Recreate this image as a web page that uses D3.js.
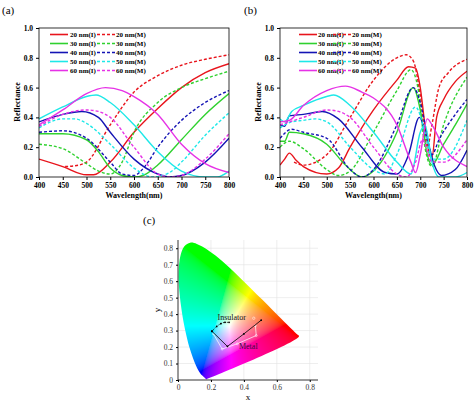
<!DOCTYPE html>
<html><head><meta charset="utf-8">
<script src="https://cdn.jsdelivr.net/npm/d3@7"></script>
<style>body{margin:0;background:#fff}svg{font-family:"Liberation Serif",serif}</style>
</head><body>
<script>
// series: [wavelength, reflectance]
var names = ["20 nm", "30 nm", "40 nm", "50 nm", "60 nm"];
var colors = ["#e8141c", "#2fd12f", "#1414b4", "#1ee8e8", "#e632e6"];

var aI20 = [[400,.12],[450,.07],[500,.015],[515,.015],[550,.1],[600,.3],[650,.46],[700,.6],[750,.7],[800,.76]];
var aM20 = [[455,.07],[475,.075],[500,.1],[550,.35],[600,.57],[650,.68],[700,.75],[750,.79],[800,.82]];
var aI30 = [[400,.29],[450,.29],[500,.25],[525,.17],[550,.06],[575,.01],[600,0],[625,.02],[650,.08],[700,.25],[750,.42],[800,.56]];
var aM30 = [[400,.22],[450,.19],[500,.09],[525,.04],[550,.02],[575,.1],[600,.3],[650,.5],[700,.6],[750,.66],[800,.71]];
var aI40 = [[400,.37],[450,.42],[490,.44],[525,.4],[550,.3],[600,.12],[650,.02],[675,0],[700,.01],[750,.1],[800,.26]];
var aM40 = [[400,.3],[450,.31],[500,.26],[550,.1],[575,.02],[600,.01],[625,.08],[650,.2],[700,.38],[750,.5],[800,.58]];
var aI50 = [[400,.39],[450,.47],[500,.54],[520,.55],[550,.5],[600,.35],[650,.17],[700,.04],[750,0],[775,0],[800,.04]];
var aM50 = [[400,.33],[450,.39],[475,.39],[500,.36],[550,.22],[600,.06],[640,0],[675,.03],[700,.1],[750,.28],[800,.43]];
var aI60 = [[400,.35],[450,.45],[500,.56],[540,.6],[575,.58],[600,.54],[650,.42],[700,.22],[750,.09],[800,.03]];
var aM60 = [[400,.34],[450,.42],[500,.45],[525,.44],[550,.4],[600,.2],[650,.02],[675,0],[700,.01],[750,.12],[800,.29]];

var bI20 = [[400,.08],[410,.12],[420,.16],[435,.11],[450,.07],[500,.02],[525,.06],[550,.2],[600,.45],[650,.65],[675,.74],[690,.73],[700,.6],[710,.35],[720,.15],[725,.13],[735,.4],[750,.52],[775,.64],[800,.71]];
var bM20 = [[430,.1],[450,.08],[500,.15],[550,.4],[600,.65],[650,.8],[670,.82],[685,.78],[700,.55],[715,.2],[725,.35],[740,.6],[760,.7],[800,.79]];
var bI30 = [[400,.24],[410,.24],[420,.3],[450,.29],[500,.22],[540,.08],[575,0],[600,.04],[650,.3],[685,.6],[700,.45],[715,.15],[725,.08],[750,.22],[775,.35],[800,.49]];
var bM30 = [[400,.2],[420,.24],[450,.19],[500,.05],[525,.01],[550,.04],[600,.3],[650,.58],[680,.72],[695,.6],[710,.2],[725,.07],[750,.35],[800,.67]];
var bI40 = [[400,.35],[410,.34],[420,.41],[450,.42],[490,.44],[525,.39],[575,.2],[625,.03],[650,.02],[675,.15],[698,.4],[715,.25],[730,.08],[745,.01],[775,.05],[800,.18]];
var bM40 = [[400,.26],[425,.32],[450,.3],[500,.26],[550,.05],[575,0],[600,.05],[650,.35],[685,.6],[700,.5],[715,.28],[725,.15],[740,.25],[775,.42],[800,.52]];
var bI50 = [[400,.39],[410,.37],[425,.44],[450,.48],[500,.54],[515,.55],[550,.48],[600,.3],[650,.1],[680,.02],[700,.3],[710,.35],[725,.1],[740,0],[775,0],[800,.03]];
var bM50 = [[400,.33],[425,.37],[450,.38],[475,.39],[500,.37],[550,.2],[600,.05],[625,.02],[650,.15],[690,.47],[710,.3],[725,.12],[750,.12],[800,.38]];
var bI60 = [[400,.37],[420,.38],[450,.48],[500,.58],[540,.61],[575,.57],[600,.53],[650,.35],[680,.1],[690,.03],[700,.15],[715,.39],[725,.35],[750,.2],[800,.07]];
var bM60 = [[400,.35],[450,.4],[500,.45],[525,.44],[550,.4],[600,.2],[650,.02],[670,0],[690,.1],[705,.25],[725,.1],[750,.1],[800,.25]];

var xTicks = [400, 450, 500, 550, 600, 650, 700, 750, 800];
var yTicks = [0, 0.2, 0.4, 0.6, 0.8, 1.0];

// CIE 1931 spectral locus (x, y)
var locus = [[.1741,.0050],[.1733,.0048],[.1714,.0051],[.1644,.0109],[.1566,.0177],[.1440,.0297],[.1241,.0578],[.1096,.0868],[.0913,.1327],[.0687,.2007],[.0454,.2950],[.0235,.4127],[.0082,.5384],[.0039,.6548],[.0139,.7502],[.0389,.8120],[.0743,.8338],[.1142,.8262],[.1547,.8059],[.2296,.7543],[.3016,.6923],[.3731,.6245],[.4441,.5547],[.5125,.4866],[.5752,.4242],[.6270,.3725],[.6915,.3083],[.7190,.2809],[.7347,.2653]];
var insulator = [[.206,.296],[.30,.204],[.40,.28],[.505,.363]];
var insulatorDots = [[.206,.296],[.235,.325],[.26,.342],[.285,.35],[.31,.35]];
var metal = [[.215,.28],[.268,.188],[.36,.22],[.475,.27],[.47,.33]];
var metalMark = [.46,.375];
var cTicksX = [0, 0.2, 0.4, 0.6, 0.8];
var cTicksY = [0, 0.1, 0.2, 0.3, 0.4, 0.5, 0.6, 0.7, 0.8];

var W = 474, H = 404;
var svg = d3.select("body").append("svg").attr("width", W).attr("height", H);

function panel(x0, x1, label, lx, series, leg) {
	var x = d3.scaleLinear().domain([400, 800]).range([x0, x1]);
	var y = d3.scaleLinear().domain([0, 1]).range([177, 28]);
	var g = svg.append("g");
	var clipId = "clip" + label;
	svg.append("clipPath").attr("id", clipId).append("rect")
		.attr("x", x0).attr("y", 28).attr("width", x1 - x0).attr("height", 149);
	var line = d3.line().x(function (d) { return x(d[0]); }).y(function (d) { return y(d[1]); })
		.curve(d3.curveMonotoneX);
	var pl = g.append("g").attr("clip-path", "url(#" + clipId + ")");
	series.forEach(function (s, i) {
		var c = colors[Math.floor(i / 2)];
		pl.append("path").attr("d", line(s)).attr("fill", "none").attr("stroke", c)
			.attr("stroke-width", 1.4).attr("stroke-dasharray", i % 2 ? "3,2" : null);
	});
	g.append("rect").attr("x", x0).attr("y", 28).attr("width", x1 - x0).attr("height", 149)
		.attr("fill", "none").attr("stroke", "#000").attr("stroke-width", 0.8);
	var ax = g.append("g").attr("transform", "translate(0,177)")
		.call(d3.axisBottom(x).tickValues(xTicks).tickSize(3).tickFormat(d3.format("d")));
	var ay = g.append("g").attr("transform", "translate(" + x0 + ",0)")
		.call(d3.axisLeft(y).tickValues(yTicks).tickSize(3).tickFormat(d3.format(".1f")));
	[ax, ay].forEach(function (a) {
		a.select(".domain").remove();
		a.selectAll("text").attr("font-size", 7.5).attr("font-weight", "bold").attr("font-family", "Liberation Serif");
	});
	g.append("text").attr("x", (x0 + x1) / 2).attr("y", 198).attr("text-anchor", "middle")
		.attr("font-size", 8).attr("font-weight", "bold").text("Wavelength(nm)");
	g.append("text").attr("transform", "translate(" + (x0 - 19) + ",102) rotate(-90)")
		.attr("text-anchor", "middle").attr("font-size", 8).attr("font-weight", "bold").text("Reflectance");
	g.append("text").attr("x", lx).attr("y", 14).attr("font-size", 11).text("(" + label + ")");
	names.forEach(function (n, i) {
		var yy = 34.5 + i * 9;
		[0, 1].forEach(function (k) {
			var sx = leg[k * 2];
			g.append("line").attr("x1", sx).attr("x2", sx + 18).attr("y1", yy).attr("y2", yy)
				.attr("stroke", colors[i]).attr("stroke-width", 1.6).attr("stroke-dasharray", k ? "3,2" : null);
			g.append("text").attr("x", leg[k * 2 + 1]).attr("y", yy + 2.5).attr("font-size", 7)
				.attr("font-weight", "bold").text(n + (k ? "(M)" : "(I)"));
		});
	});
}

panel(39, 229, "a", 2, [aI20, aM20, aI30, aM30, aI40, aM40, aI50, aM50, aI60, aM60], [50, 70, 97, 116]);
panel(280, 467, "b", 244, [bI20, bM20, bI30, bM30, bI40, bM40, bI50, bM50, bI60, bM60], [299, 318, 333, 352]);

// (c) chromaticity diagram
var cx = d3.scaleLinear().domain([0, 0.85]).range([178, 318]);
var cy = d3.scaleLinear().domain([0, 0.85]).range([380, 240]);
var cg = svg.append("g");
cg.append("text").attr("x", 143).attr("y", 224).attr("font-size", 11).text("(c)");
cTicksX.forEach(function (t) {
	if (t > 0) cg.append("line").attr("x1", cx(t)).attr("x2", cx(t)).attr("y1", cy(0)).attr("y2", cy(0.85)).attr("stroke", "#e2e2e2").attr("stroke-width", 0.6);
});
cTicksY.forEach(function (t) {
	if (t > 0) cg.append("line").attr("x1", cx(0)).attr("x2", cx(0.85)).attr("y1", cy(t)).attr("y2", cy(t)).attr("stroke", "#e2e2e2").attr("stroke-width", 0.6);
});

var cw = 140, ch = 140;
var canvas = document.createElement("canvas");
canvas.width = cw; canvas.height = ch;
var ctx = canvas.getContext("2d");
var img = ctx.createImageData(cw, ch);
function gam(v) { return v <= 0.0031308 ? 12.92 * v : 1.055 * Math.pow(v, 1 / 2.4) - 0.055; }
for (var j = 0; j < ch; j++) {
	for (var i = 0; i < cw; i++) {
		var xx = cx.invert(178 + i + 0.5), yy = cy.invert(240 + j + 0.5);
		if (yy < 0.001) yy = 0.001;
		var X = xx / yy, Y = 1, Z = (1 - xx - yy) / yy;
		var r = 3.2406 * X - 1.5372 * Y - 0.4986 * Z;
		var gg = -0.9689 * X + 1.8758 * Y + 0.0415 * Z;
		var b = 0.0557 * X - 0.2040 * Y + 1.0570 * Z;
		r = Math.max(r, 0); gg = Math.max(gg, 0); b = Math.max(b, 0);
		var m = Math.max(r, gg, b) || 1;
		var p = (j * cw + i) * 4;
		img.data[p] = 255 * gam(r / m); img.data[p + 1] = 255 * gam(gg / m); img.data[p + 2] = 255 * gam(b / m); img.data[p + 3] = 255;
	}
}
ctx.putImageData(img, 0, 0);
svg.append("clipPath").attr("id", "locusClip").append("path")
	.attr("d", d3.line().x(function (d) { return cx(d[0]); }).y(function (d) { return cy(d[1]); }).curve(d3.curveCatmullRomClosed)(locus));
cg.append("image").attr("href", canvas.toDataURL()).attr("x", 178).attr("y", 240)
	.attr("width", cw).attr("height", ch).attr("clip-path", "url(#locusClip)");

var cl = d3.line().x(function (d) { return cx(d[0]); }).y(function (d) { return cy(d[1]); });
cg.append("path").attr("d", cl(metal)).attr("fill", "none").attr("stroke", "#fff").attr("stroke-width", 0.7);
metal.forEach(function (d) {
	cg.append("circle").attr("cx", cx(d[0])).attr("cy", cy(d[1])).attr("r", 1).attr("fill", "none").attr("stroke", "#fff").attr("stroke-width", 0.5);
});
cg.append("circle").attr("cx", cx(metalMark[0])).attr("cy", cy(metalMark[1])).attr("r", 1.2).attr("fill", "none").attr("stroke", "#fff").attr("stroke-width", 0.5);
cg.append("path").attr("d", cl(insulator)).attr("fill", "none").attr("stroke", "#000").attr("stroke-width", 0.8);
cg.append("path").attr("d", cl.curve(d3.curveMonotoneX)(insulatorDots)).attr("fill", "none").attr("stroke", "#000").attr("stroke-width", 0.8).attr("stroke-dasharray", "1,1");
insulator.concat(insulatorDots).forEach(function (d) {
	cg.append("circle").attr("cx", cx(d[0])).attr("cy", cy(d[1])).attr("r", 0.9).attr("fill", "#000");
});
cg.append("text").attr("x", cx(0.24)).attr("y", cy(0.365)).attr("font-size", 8).attr("fill", "#111").text("Insulator");
cg.append("text").attr("x", cx(0.37)).attr("y", cy(0.19)).attr("font-size", 8).attr("fill", "#3a0a3a").text("Metal");

var cax = cg.append("g").attr("transform", "translate(0,380)")
	.call(d3.axisBottom(cx).tickValues(cTicksX).tickSize(2).tickFormat(function (d) { return d === 0 ? "0" : d3.format(".1f")(d); }));
var cay = cg.append("g").attr("transform", "translate(178,0)")
	.call(d3.axisLeft(cy).tickValues(cTicksY).tickSize(2).tickFormat(function (d) { return d === 0 ? "0" : d3.format(".1f")(d); }));
[cax, cay].forEach(function (a) {
	a.select(".domain").attr("stroke-width", 0.8).attr("d", null);
	a.selectAll("text").attr("font-size", 7.5).attr("font-family", "Liberation Serif").attr("fill", "#333");
});
cg.append("line").attr("x1", 178).attr("x2", 318).attr("y1", 380).attr("y2", 380).attr("stroke", "#000").attr("stroke-width", 0.8);
cg.append("line").attr("x1", 178).attr("x2", 178).attr("y1", 240).attr("y2", 380).attr("stroke", "#000").attr("stroke-width", 0.8);
cg.append("text").attr("x", 248).attr("y", 400).attr("text-anchor", "middle").attr("font-size", 9).text("x");
cg.append("text").attr("transform", "translate(160,310) rotate(-90)").attr("text-anchor", "middle").attr("font-size", 9).text("y");
</script>
</body></html>
